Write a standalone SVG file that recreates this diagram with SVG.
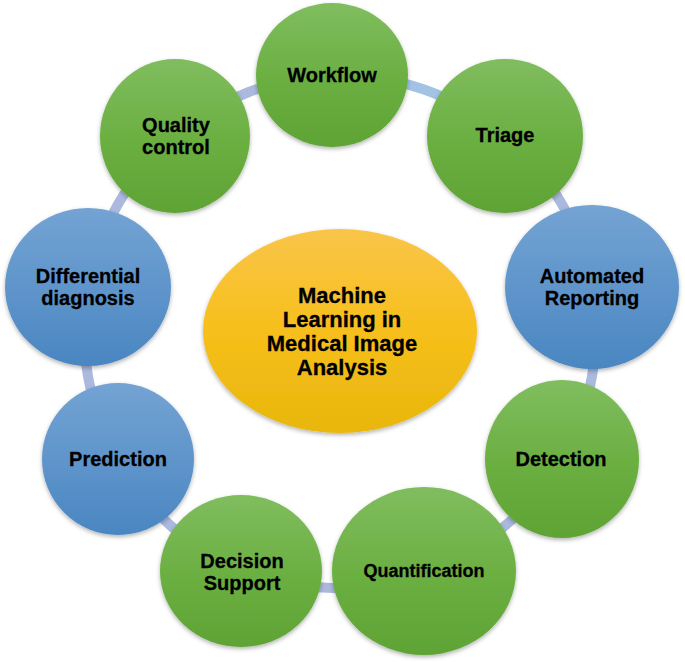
<svg xmlns="http://www.w3.org/2000/svg" width="685" height="662" viewBox="0 0 685 662">
  <defs>
    <linearGradient id="gGreen" x1="0" y1="0" x2="0" y2="1">
      <stop offset="0" stop-color="#80bd5f"/>
      <stop offset="0.5" stop-color="#6cb043"/>
      <stop offset="1" stop-color="#5fa335"/>
    </linearGradient>
    <linearGradient id="gBlue" x1="0" y1="0" x2="0" y2="1">
      <stop offset="0" stop-color="#74a3d3"/>
      <stop offset="0.5" stop-color="#5f95cb"/>
      <stop offset="1" stop-color="#4a86c1"/>
    </linearGradient>
    <linearGradient id="gGold" x1="0" y1="0" x2="0" y2="1">
      <stop offset="0" stop-color="#f9c54a"/>
      <stop offset="0.5" stop-color="#f7bf1b"/>
      <stop offset="1" stop-color="#e8b60c"/>
    </linearGradient>
    <filter id="shadow" x="-10%" y="-10%" width="120%" height="125%">
      <feDropShadow dx="0" dy="2" stdDeviation="2" flood-color="#000" flood-opacity="0.3"/>
    </filter>
  </defs>
  <style>
    .ring { fill: none; stroke: #abb9de; stroke-width: 10; }
    .green { fill: url(#gGreen); filter: url(#shadow); }
    .blue { fill: url(#gBlue); filter: url(#shadow); }
    .gold { fill: url(#gGold); filter: url(#shadow); }
    .lbl { font-family: "Liberation Sans", Arial, sans-serif; font-weight: bold; font-size: 20px; fill: #000; text-anchor: middle; stroke: #000; stroke-width: 0.3px; }
    .small { font-size: 18px; }
    .big { font-size: 22px; }
  </style>
  <rect width="685" height="662" fill="#fff"/>
  <g id="connectors">
    <path class="ring" style="stroke:#a3c3e5" d="M332 75 A256 256 0 0 1 505 136"/>
    <path class="ring" d="M505 136 A256 256 0 0 1 592 287"/>
    <path class="ring" d="M592 287 A256 256 0 0 1 562 459"/>
    <path class="ring" d="M562 459 A256 256 0 0 1 424 571"/>
    <path class="ring" d="M424 571 A256 256 0 0 1 241 571"/>
    <path class="ring" d="M241 571 A256 256 0 0 1 118 459"/>
    <path class="ring" d="M118 459 A256 256 0 0 1 88 287"/>
    <path class="ring" d="M88 287 A256 256 0 0 1 175 136"/>
    <path class="ring" d="M175 136 A256 256 0 0 1 332 75"/>
  </g>
  <g id="center">
    <ellipse class="gold" cx="340" cy="331" rx="137" ry="102"/>
    <text class="lbl big" x="342" y="303">Machine</text>
    <text class="lbl big" x="342" y="327">Learning in</text>
    <text class="lbl big" x="342" y="351">Medical Image</text>
    <text class="lbl big" x="342" y="375">Analysis</text>
  </g>
  <g id="workflow">
    <ellipse class="green" cx="332" cy="75" rx="76" ry="72"/>
    <text class="lbl" x="332" y="82">Workflow</text>
  </g>
  <g id="triage">
    <ellipse class="green" cx="505" cy="136" rx="78" ry="77"/>
    <text class="lbl" x="505" y="142">Triage</text>
  </g>
  <g id="automated-reporting">
    <ellipse class="blue" cx="592" cy="287" rx="87" ry="82"/>
    <text class="lbl" x="592" y="283">Automated</text>
    <text class="lbl" x="592" y="305">Reporting</text>
  </g>
  <g id="detection">
    <ellipse class="green" cx="562" cy="459" rx="77" ry="79"/>
    <text class="lbl" x="561" y="466">Detection</text>
  </g>
  <g id="quantification">
    <ellipse class="green" cx="424" cy="571" rx="92" ry="84"/>
    <text class="lbl small" x="424" y="577">Quantification</text>
  </g>
  <g id="decision-support">
    <ellipse class="green" cx="241" cy="571" rx="81" ry="76"/>
    <text class="lbl" x="242" y="568">Decision</text>
    <text class="lbl" x="242" y="590">Support</text>
  </g>
  <g id="prediction">
    <ellipse class="blue" cx="118" cy="459" rx="76" ry="76"/>
    <text class="lbl" x="118" y="466">Prediction</text>
  </g>
  <g id="differential-diagnosis">
    <ellipse class="blue" cx="88" cy="287" rx="83" ry="79"/>
    <text class="lbl" x="88" y="283">Differential</text>
    <text class="lbl" x="88" y="305">diagnosis</text>
  </g>
  <g id="quality-control">
    <ellipse class="green" cx="175" cy="136" rx="75" ry="77"/>
    <text class="lbl" x="176" y="132">Quality</text>
    <text class="lbl" x="176" y="154">control</text>
  </g>
</svg>
